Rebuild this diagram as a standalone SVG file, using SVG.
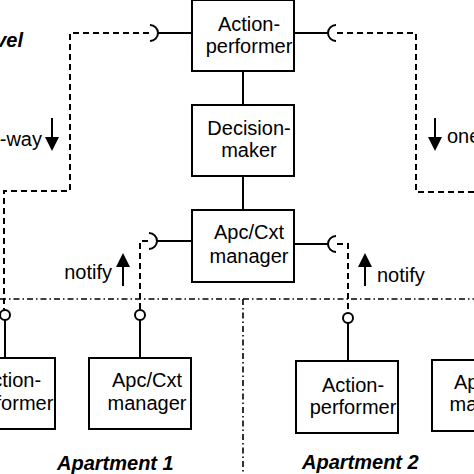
<svg xmlns="http://www.w3.org/2000/svg" width="474" height="474" viewBox="0 0 474 474">
<style>
.box{fill:#fff;stroke:#000;stroke-width:2}
.t{font-family:"Liberation Sans",Arial,sans-serif;font-size:20px;fill:#000;text-anchor:middle}
.lbl{font-family:"Liberation Sans",Arial,sans-serif;font-size:20px;fill:#000}
.bi{font-family:"Liberation Sans",Arial,sans-serif;font-size:20px;font-weight:bold;font-style:italic;fill:#000}
.solid{fill:none;stroke:#000;stroke-width:2}
.dash{fill:none;stroke:#000;stroke-width:2;stroke-dasharray:6 4}
.dd{fill:none;stroke:#000;stroke-width:1.6;stroke-dasharray:6 3 1.5 3}
.ball{fill:#fff;stroke:#000;stroke-width:2}
</style>
<rect width="474" height="474" fill="#fff"/>
<g id="connectors">
  <!-- boundaries -->
  <line class="dd" x1="0" y1="299" x2="474" y2="299"/>
  <line class="dd" x1="243" y1="299" x2="243" y2="474"/>
  <!-- central vertical links -->
  <line class="solid" x1="243" y1="71" x2="243" y2="105"/>
  <line class="solid" x1="243" y1="176" x2="243" y2="210"/>
  <!-- top box left interface -->
  <line class="solid" x1="158" y1="33" x2="192" y2="33"/>
  <path class="solid" d="M150,25 A8,8 0 0 1 150,41"/>
  <polyline class="dash" points="149,33 70,33 70,191 4,191 4,310"/>
  <!-- top box right interface -->
  <line class="solid" x1="294" y1="33" x2="328" y2="33"/>
  <path class="solid" d="M336,25 A8,8 0 0 0 336,41"/>
  <polyline class="dash" points="337,33 416,33 416,192 474,192"/>
  <!-- apc left interface -->
  <line class="solid" x1="157" y1="241" x2="192" y2="241"/>
  <path class="solid" d="M149,233 A8,8 0 0 1 149,249"/>
  <polyline class="dash" points="148,241 140,241 140,310"/>
  <!-- apc right interface -->
  <line class="solid" x1="294" y1="244" x2="328" y2="244"/>
  <path class="solid" d="M336,236 A8,8 0 0 0 336,252"/>
  <polyline class="dash" points="337,244 348,244 348,313"/>
  <!-- lollipops -->
  <line class="solid" x1="5" y1="320" x2="5" y2="358"/>
  <circle class="ball" cx="5" cy="315" r="5"/>
  <line class="solid" x1="140" y1="320" x2="140" y2="358"/>
  <circle class="ball" cx="140" cy="315" r="5"/>
  <line class="solid" x1="348" y1="323" x2="348" y2="361"/>
  <circle class="ball" cx="348" cy="318" r="5"/>
  <!-- direction arrows -->
  <line class="solid" x1="52" y1="118" x2="52" y2="138"/>
  <polygon points="45,137 59,137 52,151" fill="#000"/>
  <line class="solid" x1="435" y1="118" x2="435" y2="138"/>
  <polygon points="428,137 442,137 435,151" fill="#000"/>
  <line class="solid" x1="123" y1="286" x2="123" y2="266"/>
  <polygon points="116,267 130,267 123,253" fill="#000"/>
  <line class="solid" x1="365" y1="286" x2="365" y2="266"/>
  <polygon points="358,267 372,267 365,253" fill="#000"/>
</g>
<g id="labels">
  <text class="bi" x="23" y="47" text-anchor="end">vel</text>
  <text class="lbl" x="42" y="146" text-anchor="end">-way</text>
  <text class="lbl" x="447" y="143">one</text>
  <text class="lbl" x="112" y="279" text-anchor="end">notify</text>
  <text class="lbl" x="377" y="282">notify</text>
  <text class="bi" x="57" y="470">Apartment 1</text>
  <text class="bi" x="302" y="469">Apartment 2</text>
</g>
<g id="action-performer-top">
  <rect class="box" x="192" y="0" width="102" height="71"/>
  <text class="t" x="249" y="31">Action-</text>
  <text class="t" x="249" y="53">performer</text>
</g>
<g id="decision-maker">
  <rect class="box" x="192" y="105" width="102" height="71"/>
  <text class="t" x="249" y="135">Decision-</text>
  <text class="t" x="249" y="157">maker</text>
</g>
<g id="apc-cxt-manager-top">
  <rect class="box" x="192" y="210" width="102" height="72"/>
  <text class="t" x="249" y="239">Apc/Cxt</text>
  <text class="t" x="249" y="263">manager</text>
</g>
<g id="action-performer-apt1">
  <rect class="box" x="-47" y="358" width="102" height="71"/>
  <text class="t" x="10" y="387">Action-</text>
  <text class="t" x="10" y="410">performer</text>
</g>
<g id="apc-cxt-manager-apt1">
  <rect class="box" x="89" y="358" width="102" height="71"/>
  <text class="t" x="147" y="387">Apc/Cxt</text>
  <text class="t" x="147" y="410">manager</text>
</g>
<g id="action-performer-apt2">
  <rect class="box" x="296" y="361" width="102" height="72"/>
  <text class="t" x="353" y="392">Action-</text>
  <text class="t" x="353" y="414">performer</text>
</g>
<g id="apc-cxt-manager-apt2">
  <rect class="box" x="432" y="360" width="102" height="71"/>
  <text class="t" x="489" y="389">Apc/Cxt</text>
  <text class="t" x="489" y="411">manager</text>
</g>
</svg>
